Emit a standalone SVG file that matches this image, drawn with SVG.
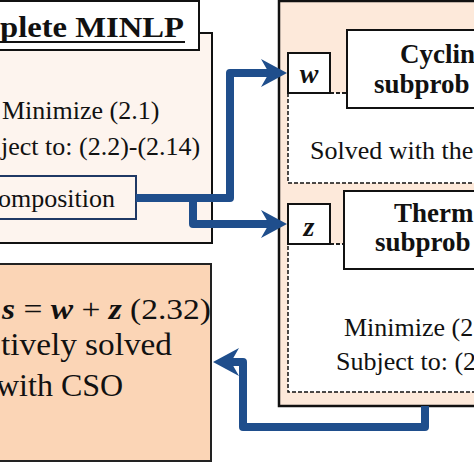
<svg xmlns="http://www.w3.org/2000/svg" width="474" height="474" viewBox="0 0 474 474">
<style>
.t{font-family:"Liberation Serif","Times New Roman",serif;fill:#111}
.g{font-size:26px}
.b{font-weight:bold}
.bi{font-weight:bold;font-style:italic}
.box{stroke:#111;stroke-width:2}
.dash{fill:#fff;stroke:#111;stroke-width:1.5;stroke-dasharray:4 2}
.conn{fill:none;stroke:#1f4e8c;stroke-width:8;stroke-linejoin:round;marker-end:url(#ah)}
</style>
<defs>
<marker id="ah" markerUnits="userSpaceOnUse" viewBox="0 -15 28 30" markerWidth="28" markerHeight="30" refX="8" refY="0" orient="auto">
<path d="M0,-14 L26,0 L0,14 L8,0 Z" fill="#1f4e8c"/>
</marker>
</defs>
<rect width="474" height="474" fill="#fff"/>

<g id="minlp">
<rect class="box" x="-10" y="33" width="222" height="210" fill="#fdf4ee"/>
<rect class="box" x="-10" y="1" width="209" height="49" fill="#fff"/>
<text class="t b" x="0" y="37" font-size="29" textLength="184" lengthAdjust="spacingAndGlyphs">plete MINLP</text>
<line x1="-2" y1="42" x2="185" y2="42" stroke="#111" stroke-width="2"/>
<text class="t g" x="2" y="119">Minimize (2.1)</text>
<text class="t g" x="1" y="155">ject to: (2.2)-(2.14)</text>
</g>

<g id="decomposition">
<rect x="-10" y="176" width="146" height="43" fill="#fdf4ee" stroke="#1f3864" stroke-width="2"/>
<text class="t g" x="-2" y="207">omposition</text>
</g>

<g id="cso">
<rect x="-10" y="264" width="221" height="197" fill="#fbd5b6" stroke="#222" stroke-width="2"/>
<text class="t" x="2" y="319" font-size="30" textLength="209" lengthAdjust="spacingAndGlyphs"><tspan class="bi">s</tspan> = <tspan class="bi">w</tspan> + <tspan class="bi">z</tspan> (2.32)</text>
<text class="t" x="1" y="355" font-size="32" textLength="171" lengthAdjust="spacingAndGlyphs">tively solved</text>
<text class="t" x="-4" y="396" font-size="32">with CSO</text>
</g>

<g id="subproblems">
<rect x="279" y="1" width="210" height="405" fill="#fde9da" stroke="#111" stroke-width="2.5"/>
</g>

<g id="cycling">
<rect class="dash" x="288" y="93" width="200" height="90"/>
<line x1="330" y1="93" x2="347" y2="93" stroke="#111" stroke-width="1.5" stroke-dasharray="4 2"/>
<rect class="box" x="347" y="30" width="140" height="78" fill="#fff"/>
<text class="t b" x="400" y="63" font-size="27">Cyclin</text>
<text class="t b" x="374" y="93" font-size="27">subprob</text>
<text class="t g" x="310" y="159">Solved with the</text>
</g>

<g id="w-node">
<rect class="box" x="288" y="53" width="42" height="40" fill="#fff"/>
<text class="t bi" x="309" y="83" font-size="28" text-anchor="middle">w</text>
</g>

<g id="thermal">
<rect class="dash" x="288" y="244" width="200" height="148"/>
<line x1="330" y1="244" x2="344" y2="244" stroke="#111" stroke-width="1.5" stroke-dasharray="4 2"/>
<rect class="box" x="344" y="191" width="140" height="78" fill="#fff"/>
<text class="t b" x="394" y="222" font-size="27">Therm</text>
<text class="t b" x="375" y="251" font-size="27">subprob</text>
<text class="t g" x="344" y="336">Minimize (2</text>
<text class="t g" x="336" y="370">Subject to: (2</text>
</g>

<g id="z-node">
<rect class="box" x="288" y="204" width="42" height="40" fill="#fff"/>
<text class="t bi" x="309" y="236" font-size="28" text-anchor="middle">z</text>
</g>

<g id="connectors">
<path class="conn" d="M136,198 H230 V73 H269"/>
<path class="conn" d="M193,198 V224 H269"/>
<path class="conn" d="M425,406 V427 H243 V362 H231"/>
</g>
</svg>
